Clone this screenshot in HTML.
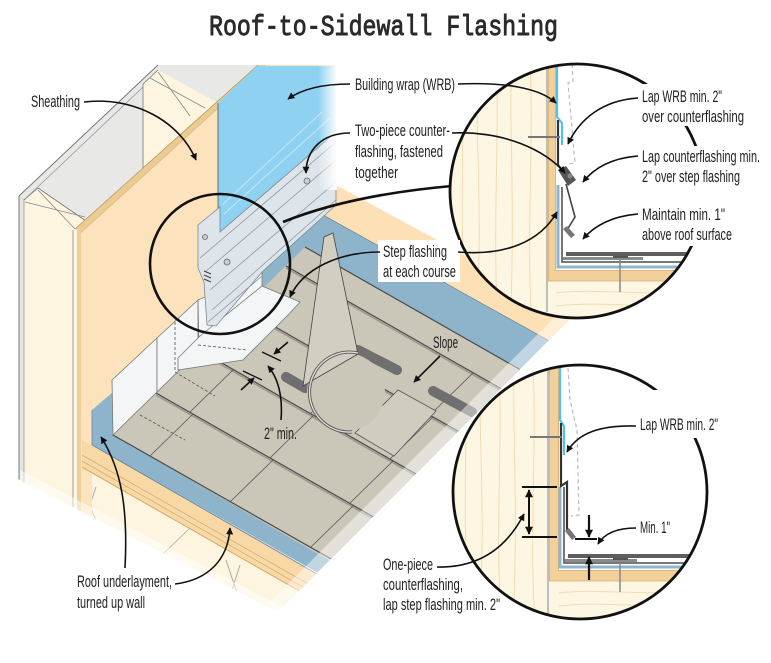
<!DOCTYPE html>
<html><head><meta charset="utf-8">
<style>
html,body{margin:0;padding:0;background:#fff;width:771px;height:663px;overflow:hidden;}
svg{display:block;overflow:hidden;}
.lb{font-family:"Liberation Sans",Arial,sans-serif;font-size:16.5px;fill:#1e1e1e;}
.ld{fill:none;stroke:#111;stroke-width:1.6;marker-end:url(#ah);}
.gr{fill:none;stroke:#efdcb4;stroke-width:1;}
</style></head><body>
<svg width="771" height="663" viewBox="0 0 771 663" xmlns="http://www.w3.org/2000/svg">
<defs>
<marker id="ah" viewBox="0 0 10 10" refX="9" refY="5" markerWidth="9" markerHeight="7" orient="auto" markerUnits="userSpaceOnUse"><path d="M0,0 L10,5 L0,10 z" fill="#111"/></marker>
<marker id="ah2" viewBox="0 0 10 10" refX="9" refY="5" markerWidth="10" markerHeight="8" orient="auto-start-reverse" markerUnits="userSpaceOnUse"><path d="M0,0 L10,5 L0,10 z" fill="#111"/></marker>
<clipPath id="mc"><polygon points="0,40 336,40 336,185 470,258 575,314 278,612 20,480 0,470"/></clipPath>
<clipPath id="c1"><circle cx="577" cy="191" r="126"/></clipPath>
<clipPath id="c2"><circle cx="580" cy="492" r="126"/></clipPath>
<linearGradient id="fx" x1="0" y1="0" x2="1" y2="0"><stop offset="0" stop-color="#fff" stop-opacity="0"/><stop offset="1" stop-color="#fff" stop-opacity="1"/></linearGradient>
</defs>

<!-- Title -->
<text x="209" y="35" font-family="'Liberation Mono',monospace" font-size="29" textLength="349" lengthAdjust="spacingAndGlyphs" fill="#2a2a2a" stroke="#2a2a2a" stroke-width="0.9">Roof-to-Sidewall Flashing</text>

<!-- MAIN DRAWING -->
<g clip-path="url(#mc)">
  <polygon points="19,196 158,65 266,65 77,229 24,199" fill="#e8e9e7"/>
  <polygon points="24,200 38,188 86,221 77,229 77,660 24,660" fill="#fdf5e0"/>
  <polygon points="19,196 24,199 24,660 19,660" fill="#e3e3e1"/>
  <line x1="19" y1="196" x2="19" y2="660" stroke="#7a7a7a" stroke-width="1"/>
  <line x1="24" y1="199" x2="24" y2="660" stroke="#9a9a9a" stroke-width="0.8"/>
  <line x1="73" y1="230" x2="73" y2="660" stroke="#8a8a8a" stroke-width="0.8"/>
  <line x1="19" y1="196" x2="158" y2="65" stroke="#777" stroke-width="1"/>
  <line x1="24" y1="200" x2="160" y2="71" stroke="#999" stroke-width="0.8"/>
  <line x1="24" y1="200" x2="38" y2="188" stroke="#777" stroke-width="0.8"/>
  <line x1="38" y1="188" x2="86" y2="221" stroke="#777" stroke-width="0.8"/>
  <line x1="38" y1="190" x2="75" y2="229" stroke="#888" stroke-width="0.8"/>
  <line x1="25" y1="202" x2="85" y2="217" stroke="#888" stroke-width="0.8"/>
  <polygon points="143,84 158,70 218,103 143,169" fill="#fdf5e0"/>
  <line x1="143" y1="84" x2="143" y2="169" stroke="#777" stroke-width="0.8"/>
  <line x1="150" y1="78" x2="205" y2="108" stroke="#888" stroke-width="0.8"/>
  <line x1="158" y1="72" x2="190" y2="116" stroke="#888" stroke-width="0.8"/>
  <line x1="143" y1="84" x2="158" y2="70" stroke="#777" stroke-width="0.8"/>

  <polygon points="77,455 345,612 345,660 77,660" fill="#fdf5df"/>
  <line x1="80" y1="482" x2="98" y2="525" stroke="#999" stroke-width="0.8"/>
  <line x1="96" y1="487" x2="84" y2="522" stroke="#999" stroke-width="0.8"/>
  <line x1="226" y1="560" x2="240" y2="602" stroke="#999" stroke-width="0.8"/>
  <line x1="240" y1="565" x2="228" y2="602" stroke="#999" stroke-width="0.8"/>
  <line x1="160" y1="557" x2="190" y2="528" stroke="#aaa" stroke-width="0.8"/>

  <polygon points="75,229 258,65 266,65 81,233" fill="#eccb92"/>
  <line x1="75" y1="229" x2="258" y2="65" stroke="#b9975e" stroke-width="0.8"/>
  <line x1="81" y1="233" x2="266" y2="65" stroke="#c9a66c" stroke-width="0.8"/>
  <rect x="77" y="229" width="4" height="431" fill="#efcf98"/>
  <polygon points="81,233 266,65 336,65 336,215 92,420 92,660 81,660" fill="#fde3bd"/>

  <polygon points="218,103 257,66 336,66 336,200 218,240" fill="#8fd1f0"/>
  <line x1="218" y1="103" x2="218" y2="232" stroke="#555" stroke-width="0.8"/>
  <line x1="222" y1="205" x2="322" y2="112" stroke="#c4e6f6" stroke-width="1"/>
  <line x1="224" y1="214" x2="330" y2="118" stroke="#c4e6f6" stroke-width="1"/>

  <polygon points="82,440 345,590 345,618 82,468" fill="#f8d9a6"/>
  <line x1="82" y1="455" x2="345" y2="605" stroke="#d2ae72" stroke-width="0.8"/>
  <line x1="82" y1="461" x2="345" y2="611" stroke="#d2ae72" stroke-width="0.8"/>
  <line x1="82" y1="467" x2="345" y2="617" stroke="#c9a36a" stroke-width="0.8"/>

  <polygon points="92,410 113,392 262,262 336,198 610,375 334,582 92,445" fill="#8eb4cb"/>
  <line x1="92" y1="445" x2="345" y2="590" stroke="#6b8797" stroke-width="1"/>
  <line x1="92" y1="410" x2="92" y2="445" stroke="#6b8797" stroke-width="0.8"/>
  <polygon points="323,170 650,345 650,397 323,215" fill="#fde0b6"/>
  <line x1="323" y1="215" x2="650" y2="397" stroke="#6e8a9a" stroke-width="0.8"/>

  <polygon points="113,435 305,247 640,437 380,590" fill="#cac6b8"/>
  <g stroke="#9d9a8e" stroke-width="1.6">
    <line x1="156" y1="395" x2="600" y2="648"/>
    <line x1="199" y1="352" x2="640" y2="604"/>
    <line x1="242" y1="310" x2="640" y2="537"/>
    <line x1="286" y1="268" x2="640" y2="470"/>
  </g>
  <g stroke="#4a4a4a" stroke-width="1.2">
    <line x1="113" y1="435" x2="500" y2="655"/>
    <line x1="156" y1="393" x2="600" y2="646"/>
    <line x1="199" y1="350" x2="640" y2="602"/>
    <line x1="242" y1="308" x2="640" y2="535"/>
    <line x1="286" y1="266" x2="640" y2="468"/>
    <line x1="305" y1="247" x2="640" y2="438"/>
  </g>
  <g stroke="#555" stroke-width="0.8">
    <line x1="150" y1="456" x2="193" y2="414"/>
    <line x1="230" y1="502" x2="273" y2="460"/>
    <line x1="310" y1="548" x2="353" y2="506"/>
    <line x1="190" y1="412" x2="233" y2="370"/>
    <line x1="270" y1="458" x2="313" y2="416"/>
    <line x1="350" y1="503" x2="393" y2="461"/>
    <line x1="430" y1="549" x2="473" y2="507"/>
    <line x1="310" y1="414" x2="353" y2="372"/>
    <line x1="390" y1="459" x2="433" y2="417"/>
    <line x1="470" y1="505" x2="513" y2="463"/>
    <line x1="430" y1="415" x2="473" y2="373"/>
    <line x1="510" y1="461" x2="553" y2="419"/>
  </g>
  <polygon points="398,390 436,411 394,456 355,433" fill="#d0ccbf" stroke="#555" stroke-width="0.8"/>

  <g fill="#f4f5f6" stroke="#777" stroke-width="0.8">
    <polygon points="112,380 157,338 157,392 113,435"/>
    <polygon points="157,338 198,300 198,352 157,392"/>
    <polygon points="198,300 262,272 262,290 199,351"/>
    <polygon points="178,358 200,336 262,286 300,302 288,315 258,345 243,360 178,370"/>
  </g>
  <g stroke="#555" stroke-width="0.8" stroke-dasharray="3,2" fill="none">
    <line x1="175" y1="322" x2="175" y2="370"/>
    <line x1="198" y1="345" x2="247" y2="350"/>
    <line x1="175" y1="372" x2="215" y2="396"/>
    <line x1="140" y1="415" x2="185" y2="440"/>
  </g>

  <polygon points="198,225 220,207 220,232 336,132 336,205 262,272 216,326 207,325 204,282 198,268" fill="#dde4ea" stroke="#7d8891" stroke-width="0.8"/>
  <g stroke="#8d99a3" stroke-width="0.8">
    <line x1="200" y1="258" x2="336" y2="142"/>
    <line x1="205" y1="272" x2="336" y2="160"/>
    <line x1="210" y1="290" x2="336" y2="182"/>
    <line x1="212" y1="310" x2="336" y2="200"/>
    <line x1="208" y1="322" x2="262" y2="276"/>
  </g>
  <g fill="#c9ced3" stroke="#666" stroke-width="0.8">
    <circle cx="205" cy="237" r="2.5"/>
    <circle cx="227" cy="262" r="3"/>
    <circle cx="307" cy="181" r="3"/>
  </g>
  <g stroke="#444" stroke-width="1.2">
    <line x1="204" y1="271" x2="211" y2="274"/>
    <line x1="204" y1="275" x2="211" y2="278"/>
    <line x1="204" y1="279" x2="211" y2="282"/>
  </g>

  <g stroke="#6f6f6f" stroke-width="10" stroke-linecap="round">
    <line x1="286" y1="377" x2="305" y2="388"/>
    <line x1="358" y1="350" x2="397" y2="370"/>
    <line x1="433" y1="391" x2="472" y2="412"/>
  </g>
  <circle cx="346" cy="392" r="39" fill="#cac6b8"/>
  <polygon points="324,237 333,233 358,354 303,386" fill="#d2cec2" stroke="#444" stroke-width="0.8"/>
  <path d="M358,353 A40,40 0 1 0 352,432" fill="none" stroke="#555" stroke-width="3.2"/>
  <path d="M358,353 A40,40 0 1 0 352,432" fill="none" stroke="#e0ddd2" stroke-width="1.4"/>

  <line x1="262" y1="352" x2="281" y2="361" stroke="#111" stroke-width="1.3"/>
  <line x1="243" y1="371" x2="262" y2="380" stroke="#111" stroke-width="1.3"/>
  <path d="M288,342 L274,354" class="ld"/>
  <path d="M241,390 L254,378" class="ld"/>

  <rect x="318" y="60" width="19" height="130" fill="url(#fx)"/>
  <polygon points="20,470 290,611 278,612 20,480" fill="#fff" opacity="0.5"/>
  <polygon points="575,314 278,612 268,604 566,306" fill="#fff" opacity="0.45"/>
</g>

<circle cx="220" cy="264" r="70" fill="none" stroke="#111" stroke-width="2.6"/>
<path d="M283,222 Q350,195 452,186" fill="none" stroke="#111" stroke-width="2.6"/>

<!-- TOP DETAIL CIRCLE -->
<g clip-path="url(#c1)">
  <rect x="440" y="55" width="290" height="280" fill="#fff"/>
  <rect x="440" y="55" width="107" height="280" fill="#fdf6e3"/>
  <path class="gr" d="M462,60 C466,120 458,200 466,330"/>
  <path class="gr" d="M478,60 C474,130 484,210 476,330"/>
  <path class="gr" d="M496,60 C500,140 492,220 498,330"/>
  <path class="gr" d="M512,60 C508,110 516,200 510,330"/>
  <path class="gr" d="M530,60 C534,150 526,230 532,330"/>
  <line x1="547" y1="55" x2="547" y2="312" stroke="#aaa" stroke-width="1.5"/>
  <rect x="548" y="55" width="8" height="217" fill="#f1d09a"/>
  <rect x="548" y="270" width="180" height="11" fill="#f1d09a"/>
  <rect x="548" y="281" width="180" height="55" fill="#fdf6e3"/>
  <path class="gr" d="M556,293 C600,288 640,297 720,290"/>
  <path class="gr" d="M556,306 C610,300 650,311 720,303"/>
  <path class="gr" d="M556,318 C610,314 660,322 720,316"/>
  <g stroke="#d6b072" stroke-width="0.8">
    <line x1="548.5" y1="55" x2="548.5" y2="281"/>
    <line x1="555.5" y1="55" x2="555.5" y2="270"/>
    <line x1="555" y1="270.5" x2="728" y2="270.5"/>
    <line x1="548" y1="281" x2="728" y2="281"/>
  </g>
  <polyline points="558,185 558,267 728,267" fill="none" stroke="#8fb4cb" stroke-width="3"/>
  <polyline points="562,187 562,262 728,262" fill="none" stroke="#666" stroke-width="1.8"/>
  <rect x="566" y="252" width="140" height="4" fill="#5e5e5e"/>
  <rect x="563" y="257" width="80" height="3" fill="#8a8a8a"/>
  <polyline points="557,60 557,117 562,123 562,145" fill="none" stroke="#4fc3ee" stroke-width="2.2"/>
  <polyline points="558,120 558,165 566,175" fill="none" stroke="#333" stroke-width="2.2"/>
  <polygon points="558,170 566,166 576,180 568,186" fill="#555"/>
  <circle cx="570" cy="176" r="2.5" fill="#888"/>
  <polyline points="566,184 575,217 567,230" fill="none" stroke="#444" stroke-width="1.6"/>
  <polygon points="563,229 567,226 575,235 571,238" fill="#777"/>
  <polyline points="572,64 573,82 568,83 575,163 567,164" fill="none" stroke="#bbb" stroke-width="1.2" stroke-dasharray="4,3"/>
  <line x1="528" y1="137" x2="560" y2="137" stroke="#777" stroke-width="2"/>
  <line x1="620" y1="256" x2="620" y2="292" stroke="#888" stroke-width="1.5"/>
  <line x1="613" y1="257" x2="628" y2="257" stroke="#555" stroke-width="2"/>
</g>
<circle cx="577" cy="191" r="127" fill="none" stroke="#111" stroke-width="2.8"/>

<!-- BOTTOM DETAIL CIRCLE -->
<g clip-path="url(#c2)">
  <rect x="448" y="360" width="290" height="270" fill="#fff"/>
  <rect x="448" y="360" width="100" height="270" fill="#fdf6e3"/>
  <path class="gr" d="M465,362 C469,420 461,500 469,625"/>
  <path class="gr" d="M481,362 C477,430 487,510 479,625"/>
  <path class="gr" d="M499,362 C503,440 495,520 501,625"/>
  <path class="gr" d="M515,362 C511,410 519,500 513,625"/>
  <path class="gr" d="M533,362 C537,450 529,530 535,625"/>
  <line x1="548" y1="360" x2="548" y2="615" stroke="#aaa" stroke-width="1.5"/>
  <rect x="549" y="360" width="10" height="211" fill="#f1d09a"/>
  <rect x="549" y="570" width="180" height="11" fill="#f1d09a"/>
  <rect x="549" y="581" width="180" height="49" fill="#fdf6e3"/>
  <path class="gr" d="M559,593 C600,588 640,597 720,590"/>
  <path class="gr" d="M559,606 C610,600 650,611 720,603"/>
  <g stroke="#d6b072" stroke-width="0.8">
    <line x1="549.5" y1="360" x2="549.5" y2="581"/>
    <line x1="558.5" y1="360" x2="558.5" y2="570"/>
    <line x1="558" y1="570.5" x2="728" y2="570.5"/>
    <line x1="549" y1="581" x2="728" y2="581"/>
  </g>
  <polyline points="560,487 560,567 728,567" fill="none" stroke="#8fb4cb" stroke-width="3"/>
  <polyline points="564,487 564,563 728,563" fill="none" stroke="#666" stroke-width="1.8"/>
  <rect x="568" y="554" width="140" height="4" fill="#5e5e5e"/>
  <rect x="565" y="559" width="72" height="3" fill="#8a8a8a"/>
  <polyline points="560,365 560,420 564,426 564,455" fill="none" stroke="#4fc3ee" stroke-width="2.2"/>
  <polyline points="561,423 561,486 567,482 567,532" fill="none" stroke="#333" stroke-width="2.2"/>
  <polygon points="565,531 569,528 576,537 572,540" fill="#777"/>
  <polyline points="568,368 570,400 577,430 579,515 571,516" fill="none" stroke="#bbb" stroke-width="1.2" stroke-dasharray="4,3"/>
  <line x1="530" y1="437" x2="562" y2="437" stroke="#777" stroke-width="2"/>
  <line x1="620" y1="558" x2="620" y2="592" stroke="#888" stroke-width="1.5"/>
  <line x1="613" y1="559" x2="628" y2="559" stroke="#555" stroke-width="2"/>
  <line x1="522" y1="487" x2="557" y2="487" stroke="#111" stroke-width="2"/>
  <line x1="522" y1="537" x2="557" y2="537" stroke="#111" stroke-width="2"/>
  <line x1="529" y1="490" x2="529" y2="534" stroke="#111" stroke-width="2" marker-start="url(#ah2)" marker-end="url(#ah2)"/>
  <line x1="575" y1="539" x2="597" y2="539" stroke="#111" stroke-width="2"/>
  <line x1="589" y1="515" x2="589" y2="537" stroke="#111" stroke-width="2.2" marker-end="url(#ah2)"/>
  <line x1="589" y1="580" x2="589" y2="557" stroke="#111" stroke-width="2.2" marker-end="url(#ah2)"/>
</g>
<circle cx="580" cy="492" r="127" fill="none" stroke="#111" stroke-width="2.8"/>

<rect x="636" y="84" width="130" height="42" fill="#fff"/>
<rect x="636" y="146" width="130" height="100" fill="#fff"/>
<rect x="632" y="390" width="95" height="48" fill="#fff"/>
<rect x="632" y="514" width="44" height="26" fill="#fff"/>
<rect x="378" y="240" width="82" height="42" fill="#fff"/>

<path class="ld" d="M84,102 C135,96 180,122 196,160"/>
<path class="ld" d="M350,84 C322,84 302,89 288,99"/>
<path class="ld" d="M458,84 C505,82 540,88 556,103"/>
<path class="ld" d="M350,133 C322,133 306,150 306,173"/>
<path class="ld" d="M452,133 C505,131 545,150 565,173"/>
<path class="ld" d="M380,252 C340,252 303,268 290,297"/>
<path class="ld" d="M458,252 C505,256 540,242 557,212"/>
<path class="ld" d="M440,356 L414,382"/>
<path class="ld" d="M281,420 C283,395 278,378 268,366"/>
<path class="ld" d="M125,568 C128,510 122,470 101,437"/>
<path class="ld" d="M175,584 C208,580 228,560 230,528"/>
<path class="ld" d="M638,98 C604,100 580,118 568,144"/>
<path class="ld" d="M638,156 C612,158 594,168 583,182"/>
<path class="ld" d="M638,214 C612,216 594,226 583,239"/>
<path class="ld" d="M636,426 C600,425 578,433 567,452"/>
<path class="ld" d="M636,528 C616,528 604,534 598,544"/>
<path class="ld" d="M437,567 C482,568 508,545 524,514"/>

<g class="lb">
<text x="31" y="107" textLength="49" lengthAdjust="spacingAndGlyphs">Sheathing</text>
<text x="355" y="90" textLength="100" lengthAdjust="spacingAndGlyphs">Building wrap (WRB)</text>
<text x="355" y="136" textLength="95" lengthAdjust="spacingAndGlyphs">Two-piece counter-</text>
<text x="355" y="157" textLength="88" lengthAdjust="spacingAndGlyphs">flashing, fastened</text>
<text x="355" y="178" textLength="43" lengthAdjust="spacingAndGlyphs">together</text>
<text x="383" y="257" textLength="64" lengthAdjust="spacingAndGlyphs">Step flashing</text>
<text x="383" y="277" textLength="73" lengthAdjust="spacingAndGlyphs">at each course</text>
<text x="433" y="348" textLength="25" lengthAdjust="spacingAndGlyphs">Slope</text>
<text x="264" y="439" textLength="33" lengthAdjust="spacingAndGlyphs">2" min.</text>
<text x="77" y="587" textLength="95" lengthAdjust="spacingAndGlyphs">Roof underlayment,</text>
<text x="77" y="608" textLength="68" lengthAdjust="spacingAndGlyphs">turned up wall</text>
<text x="642" y="102" textLength="80" lengthAdjust="spacingAndGlyphs">Lap WRB min. 2"</text>
<text x="642" y="122" textLength="102" lengthAdjust="spacingAndGlyphs">over counterflashing</text>
<text x="642" y="162" textLength="118" lengthAdjust="spacingAndGlyphs">Lap counterflashing min.</text>
<text x="642" y="182" textLength="98" lengthAdjust="spacingAndGlyphs">2" over step flashing</text>
<text x="642" y="220" textLength="83" lengthAdjust="spacingAndGlyphs">Maintain min. 1"</text>
<text x="642" y="240" textLength="90" lengthAdjust="spacingAndGlyphs">above roof surface</text>
<text x="640" y="430" textLength="78" lengthAdjust="spacingAndGlyphs">Lap WRB min. 2"</text>
<text x="640" y="533" textLength="30" lengthAdjust="spacingAndGlyphs">Min. 1"</text>
<text x="383" y="570" textLength="50" lengthAdjust="spacingAndGlyphs">One-piece</text>
<text x="383" y="590" textLength="80" lengthAdjust="spacingAndGlyphs">counterflashing,</text>
<text x="383" y="610" textLength="117" lengthAdjust="spacingAndGlyphs">lap step flashing min. 2"</text>
</g>
</svg>
</body></html>
